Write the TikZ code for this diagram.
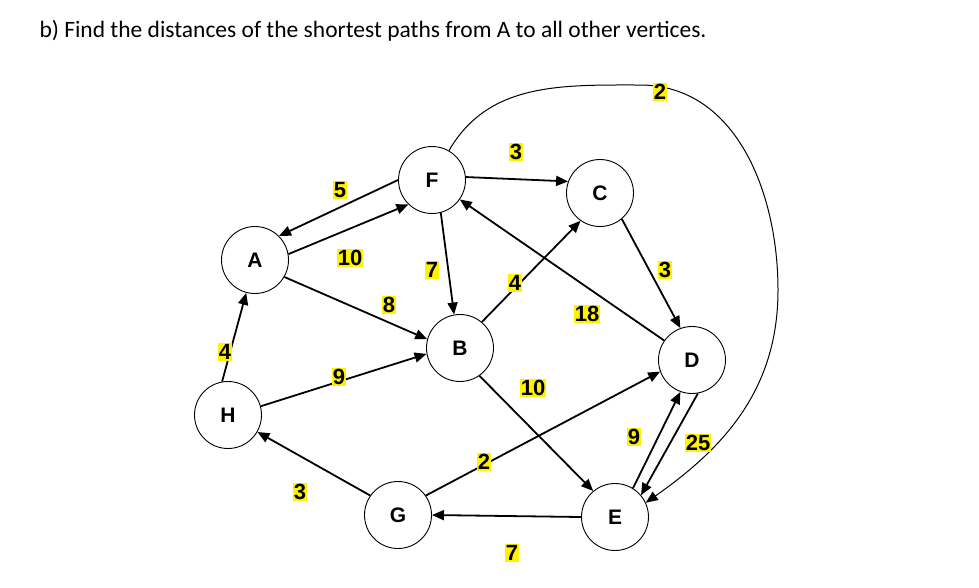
\documentclass[tikz,border=0pt]{standalone}
\usepackage{fontspec}
\setmainfont{Liberation Sans}
\newfontfamily\titlefont{Carlito}
\usetikzlibrary{arrows.meta}
\begin{document}
\begin{tikzpicture}[x=1pt,y=-1pt,
  vert/.style={circle,draw,line width=0.9pt,minimum size=67pt,inner sep=0pt,font=\fontsize{21}{24}\selectfont\bfseries},
  edge/.style={line width=1.8pt,-{Triangle[length=12pt,width=10pt]}},
  wt/.style={fill=yellow,inner sep=1pt,font=\fontsize{22}{25}\selectfont\bfseries}]
\useasboundingbox (0,0) rectangle (979,587);
\node[anchor=west,font=\titlefont\fontsize{23.5}{27}\selectfont] (title) at (36,31) {b) Find the distances of the shortest paths from A to all other vertices.};
\node[vert] (A) at (255,260) {A};
\node[vert] (F) at (432,180) {F};
\node[vert] (C) at (600,193) {C};
\node[vert] (B) at (460,348) {B};
\node[vert] (D) at (692,360) {D};
\node[vert] (H) at (228,415) {H};
\node[vert] (G) at (398,515) {G};
\node[vert] (E) at (615,517) {E};
\draw[edge] (F.180) -- (A.45);
\draw[edge] (A.10) -- (F.226);
\draw[edge] (A.330) -- (B.165);
\draw[edge] (F.5) -- (C.160);
\draw[edge] (F.285) -- (B.100);
\draw[edge] (B.50) -- (C.235);
\draw[edge] (D.145) -- (F.325);
\draw[edge] (C.310) -- (D.110);
\draw[edge] (B.305) -- (E.130);
\draw[edge] (G.35) -- (D.200);
\draw[edge] (E.180) -- (G.0);
\draw[edge] (G.145) -- (H.330);
\draw[edge] (H.100) -- (A.255);
\draw[edge] (H.15) -- (B.190);
\draw[edge] (E.58) -- (D.250);
\draw[edge] (D.280) -- (E.40);
\draw[line width=1pt,-{Triangle[length=12pt,width=10pt]}] (F.60) to[out=60,in=180] (640,85) to[out=0,in=90] (778,290) to[out=-90,in=35] (E.25);
\node[wt] (w1) at (340,190) {5};
\node[wt] (w2) at (350,258) {10};
\node[wt] (w3) at (432,270) {7};
\node[wt] (w4) at (389,305) {8};
\node[wt] (w5) at (516,152) {3};
\node[wt] (w6) at (515,283) {4};
\node[wt] (w7) at (587,314) {18};
\node[wt] (w8) at (665,270) {3};
\node[wt] (w9) at (533,388) {10};
\node[wt] (w10) at (339,377) {9};
\node[wt] (w11) at (225,352) {4};
\node[wt] (w12) at (300,492) {3};
\node[wt] (w13) at (484,462) {2};
\node[wt] (w14) at (512,553) {7};
\node[wt] (w15) at (634,437) {9};
\node[wt] (w16) at (698,443) {25};
\node[wt] (w17) at (660,92) {2};
\end{tikzpicture}
\end{document}
